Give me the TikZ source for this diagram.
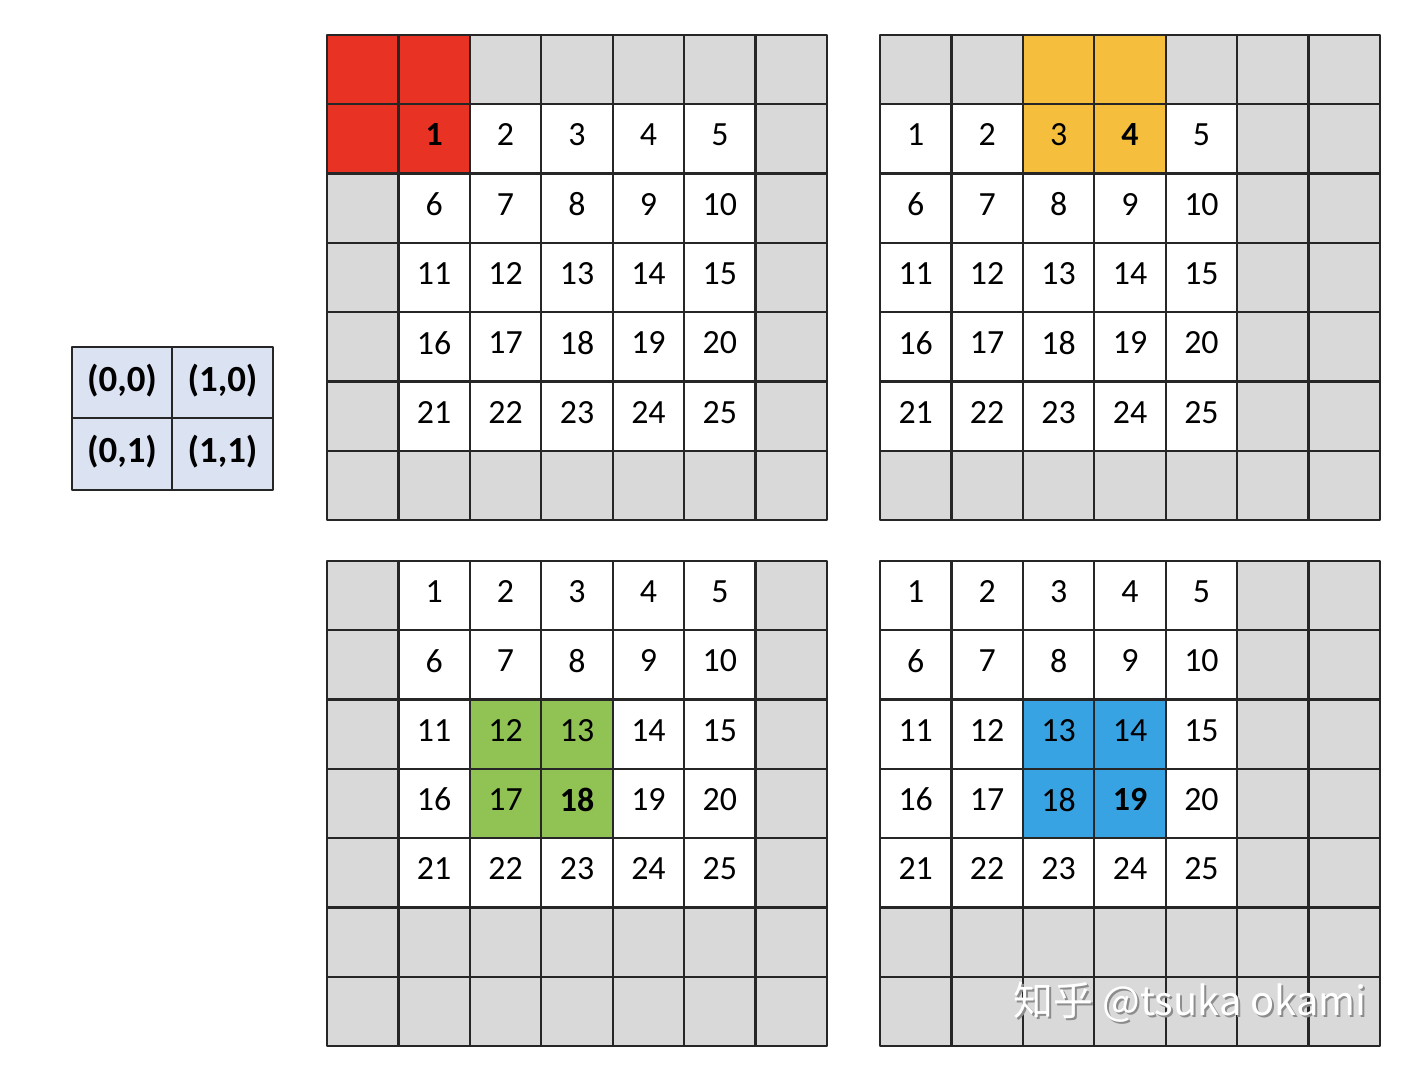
\documentclass[tikz,border=0pt]{standalone}
\usepackage{fontspec}
\setmainfont{Carlito}
\newfontfamily\cjk{Noto Sans CJK SC}

\definecolor{padgray}{rgb}{0.85,0.85,0.85}
\definecolor{kernelfill}{rgb}{0.86,0.89,0.95}

\tikzset{
  cell/.style={rectangle,inner sep=0pt,outer sep=0pt,minimum width=71.43bp,minimum height=69.29bp,text depth=8bp,font=\fontsize{34}{40}\selectfont},
  kcell/.style={rectangle,inner sep=0pt,outer sep=0pt,minimum width=100.5bp,minimum height=71.5bp,text depth=10bp,fill=kernelfill,font=\fontsize{37}{44}\selectfont\bfseries},
  gridline/.style={draw=black!85,line width=2.2bp},
  mark text/.style={anchor=base west,font=\cjk\fontsize{40}{48}\selectfont}
}

% padded 7x7 input with its 2x2 window
% #1 name, (#2,#3) top left, #4/#5 column/row of cell 1, #6/#7 window corner, #8 window colour
\newcommand{\poolgrid}[8]{%
  \foreach \r in {0,...,6}{
    \foreach \c in {0,...,6}{
      \pgfmathtruncatemacro{\numcol}{\c-#4}
      \pgfmathtruncatemacro{\numrow}{\r-#5}
      \pgfmathtruncatemacro{\cellnum}{\numrow*5+\numcol+1}
      \pgfmathtruncatemacro{\inside}{(\numcol>=0)&&(\numcol<=4)&&(\numrow>=0)&&(\numrow<=4)}
      \pgfmathtruncatemacro{\inwin}{(\c>=#6)&&(\c<=#6+1)&&(\r>=#7)&&(\r<=#7+1)}
      \pgfmathtruncatemacro{\lastcell}{(\c==#6+1)&&(\r==#7+1)}
      \ifnum\inwin=1 \def\cellfill{#8}\else\ifnum\inside=1 \def\cellfill{white}\else\def\cellfill{padgray}\fi\fi
      \ifnum\inside=1 \def\celltext{\cellnum}\else\def\celltext{}\fi
      \ifnum\lastcell=1 \def\celltext{\textbf{\cellnum}}\fi
      \node[cell,fill=\cellfill] (#1-\r-\c) at ({#2+(\c+0.5)*71.43},{#3+(\r+0.5)*69.29}) {\celltext};
    }
  }
  \draw[gridline] (#1-0-0.north west) rectangle (#1-6-6.south east);
  \foreach \i in {1,...,6}{
    \draw[gridline] (#1-0-\i.north west) -- (#1-6-\i.south west);
    \draw[gridline] (#1-\i-0.north west) -- (#1-\i-6.north east);
  }
}

\begin{document}
\begin{tikzpicture}[>=latex,line join=bevel,x=1bp,y=-1bp]
  \pgfsetlinewidth{1bp}
  \useasboundingbox (0,0) rectangle (1418,1064);
%%
  % Table: window offsets
  \foreach \r in {0,1}{
    \foreach \c in {0,1}{
      \node[kcell] (k-\r-\c) at ({122+\c*100.5},{382.5+\r*71.5}) {(\c,\r)};
    }
  }
  \draw[gridline] (k-0-0.north west) rectangle (k-1-1.south east);
  \draw[gridline] (k-0-1.north west) -- (k-1-1.south west);
  \draw[gridline] (k-1-0.north west) -- (k-1-1.north east);
  % Grid: offset (0,0)
\begin{scope}
  \definecolor{winfill}{rgb}{0.91,0.2,0.14};
  \poolgrid{tl}{327}{35}{1}{1}{0}{0}{winfill}
\end{scope}
  % Grid: offset (1,0)
\begin{scope}
  \definecolor{winfill}{rgb}{0.96,0.75,0.24};
  \poolgrid{tr}{880}{35}{0}{1}{2}{0}{winfill}
\end{scope}
  % Grid: offset (0,1)
\begin{scope}
  \definecolor{winfill}{rgb}{0.57,0.76,0.33};
  \poolgrid{bl}{327}{561}{1}{0}{2}{2}{winfill}
\end{scope}
  % Grid: offset (1,1)
\begin{scope}
  \definecolor{winfill}{rgb}{0.22,0.64,0.89};
  \poolgrid{br}{880}{561}{0}{0}{2}{2}{winfill}
\end{scope}
  % Watermark
  \node[mark text,text=black!45] (wmshadow) at (1012,1017) {知乎 @tsuka okami};
  \node[mark text,text=white] (wm) at (1010,1015) {知乎 @tsuka okami};
%
\end{tikzpicture}
\end{document}
